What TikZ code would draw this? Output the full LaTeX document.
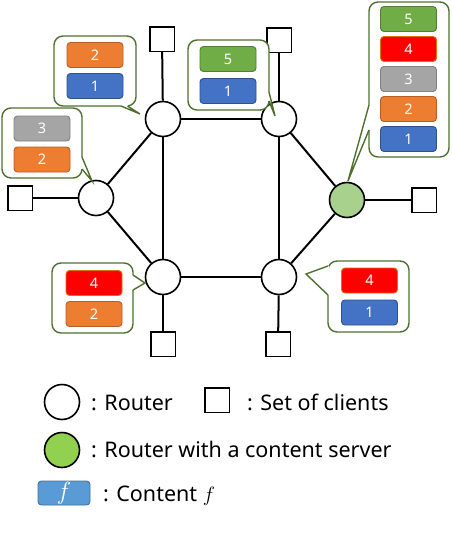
\documentclass[tikz,border=0pt]{standalone}
\usepackage{fontspec}
\setmainfont{Noto Sans}
\definecolor{corg}{HTML}{ED7D31}\definecolor{corgb}{HTML}{B85E22}
\definecolor{cblu}{HTML}{4472C4}\definecolor{cblub}{HTML}{2F528F}
\definecolor{cgrn}{HTML}{70AD47}\definecolor{cgrnb}{HTML}{507E32}
\definecolor{cgry}{HTML}{A5A5A5}\definecolor{cgryb}{HTML}{828282}
\definecolor{cred}{HTML}{FF0000}\definecolor{credb}{HTML}{E0700F}
\definecolor{cline}{HTML}{4E7030}
\definecolor{srvgreen}{HTML}{A9D18E}
\definecolor{lgreen}{HTML}{92D050}
\definecolor{lblue}{HTML}{5B9BD5}\definecolor{lblueb}{HTML}{41719C}
\newcommand\ptr[3]{%
  \fill[white] (#1) -- (#3) -- (#2) -- cycle;
  \draw[white, line width=2.2pt] (#1) -- (#2);
  \draw[cline, line width=1.4pt, line join=miter] (#1) -- (#3) -- (#2);}
\begin{document}
\begin{tikzpicture}[x=1pt,y=-1pt,
  link/.style={line width=2pt},
  router/.style={circle, draw, line width=1.6pt, fill=white, minimum size=35pt, inner sep=0pt},
  client/.style={rectangle, draw, line width=1.5pt, fill=white, minimum size=24.5pt, inner sep=0pt},
  bubble/.style={rectangle, rounded corners=9pt, draw=cline, line width=1.4pt, fill=white, inner sep=0pt},
  chip/.style={rectangle, rounded corners=3.5pt, minimum width=56pt, minimum height=25pt, inner sep=0pt, line width=0.9pt, text=white, font=\fontsize{14.5}{16}\selectfont},
  chipO/.style={chip, fill=corg, draw=corgb},
  chipB/.style={chip, fill=cblu, draw=cblub},
  chipG/.style={chip, fill=cgrn, draw=cgrnb},
  chipY/.style={chip, fill=cgry, draw=cgryb},
  chipR/.style={chip, fill=cred, draw=credb},
  legtext/.style={anchor=base west, inner sep=0pt, font=\fontsize{21.5}{24}\selectfont}
]
\useasboundingbox (0,0) rectangle (452,538);
% routers
\node[router] (r1) at (163,119) {};
\node[router] (r2) at (279,119) {};
\node[router] (r3) at (96,198) {};
\node[router] (r4) at (163,277) {};
\node[router] (r5) at (279,277) {};
\node[router, fill=srvgreen] (r6) at (347,200) {};
% clients
\node[client] (c1) at (162,39) {};
\node[client] (c2) at (279,40) {};
\node[client] (c3) at (20,198) {};
\node[client] (c4) at (163,344) {};
\node[client] (c5) at (278,344) {};
\node[client] (c6) at (424,200) {};
% links
\draw[link] (r1) -- (r2);
\draw[link] (r1) -- (r4);
\draw[link] (r1) -- (r3);
\draw[link] (r3) -- (r4);
\draw[link] (r4) -- (r5);
\draw[link] (r2) -- (r5);
\draw[link] (r2) -- (r6);
\draw[link] (r5) -- (r6);
\draw[link] (c1) -- (r1);
\draw[link] (c2) -- (r2);
\draw[link] (c3) -- (r3);
\draw[link] (c4) -- (r4);
\draw[link] (c5) -- (r5);
\draw[link] (c6) -- (r6);
% callout boxes
\node[bubble, minimum width=82pt, minimum height=70pt] (b1) at (95,71) {};
\node[bubble, minimum width=81pt, minimum height=70pt] (b2) at (228.5,75) {};
\node[bubble, minimum width=80pt, minimum height=70pt] (b3) at (42,143) {};
\node[bubble, minimum width=81pt, minimum height=70pt] (b4) at (92.5,298) {};
\node[bubble, minimum width=81pt, minimum height=71pt] (b5) at (368.5,296.5) {};
\node[bubble, minimum width=80pt, minimum height=155pt] (b6) at (409,79.5) {};
% pointers
\coordinate (p1a) at (121,106); \coordinate (p1b) at (127.5,106); \coordinate (t1) at (140,114);
\coordinate (p2a) at (269,92);  \coordinate (p2b) at (269,101);  \coordinate (t2) at (275,116);
\coordinate (p3a) at (82,157);  \coordinate (p3b) at (82,169);   \coordinate (t3) at (92,181);
\coordinate (p4a) at (133,275); \coordinate (p4b) at (133,290);  \coordinate (t4) at (145,283);
\coordinate (p5a) at (328,266); \coordinate (p5b) at (328,295);  \coordinate (t5) at (306,274);
\coordinate (p6a) at (369,105); \coordinate (p6b) at (369,130);  \coordinate (t6) at (348,181);
\ptr{p1a}{p1b}{t1}
\ptr{p2a}{p2b}{t2}
\ptr{p3a}{p3b}{t3}
\ptr{p4a}{p4b}{t4}
\ptr{p5a}{p5b}{t5}
\ptr{p6a}{p6b}{t6}
% chips
\node[chipO] (k1a) at (95,55) {2};
\node[chipB] (k1b) at (95,86) {1};
\node[chipG] (k2a) at (228,59) {5};
\node[chipB] (k2b) at (228,91) {1};
\node[chipY] (k3a) at (42,128.5) {3};
\node[chipO] (k3b) at (42,159.5) {2};
\node[chipR] (k4a) at (94,283) {4};
\node[chipO] (k4b) at (94,314) {2};
\node[chipR] (k5a) at (369.5,280.5) {4};
\node[chipB] (k5b) at (369.5,312.5) {1};
\node[chipG] (k6a) at (408.5,19) {5};
\node[chipR] (k6b) at (408.5,49) {4};
\node[chipY] (k6c) at (408.5,79) {3};
\node[chipO] (k6d) at (408.5,109) {2};
\node[chipB] (k6e) at (408.5,139) {1};
% legend
\node[router] (lr) at (62,402) {};
\node[legtext] (lrt) at (91,410) {: Router};
\node[client] (lc) at (217,400) {};
\node[legtext] (lct) at (247,410) {: Set of clients};
\node[router, fill=lgreen] (lg) at (62,450) {};
\node[legtext] (lgt) at (91,457) {: Router with a content server};
\node[chip, fill=lblue, draw=lblueb, minimum width=52pt, minimum height=24pt, font=\fontsize{23}{24}\selectfont] (lf) at (64,493) {$f$};
\node[legtext] (lft) at (103,501) {: Content $f$};
\end{tikzpicture}
\end{document}
